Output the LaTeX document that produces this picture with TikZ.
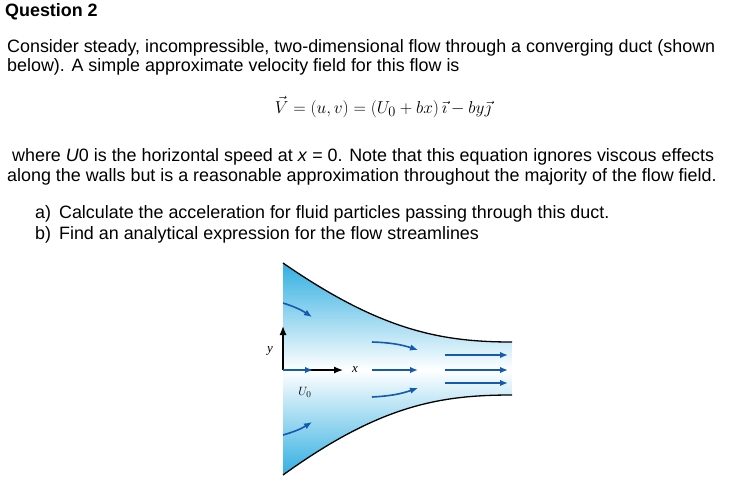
\documentclass[tikz,border=0pt]{standalone}
\usepackage{fontspec}
\setmainfont{Liberation Sans}
\newfontfamily\serifx{Liberation Serif}
\usetikzlibrary{arrows.meta}
\definecolor{duct}{RGB}{50,175,225}
\definecolor{arr}{RGB}{20,90,175}
\begin{document}
\begin{tikzpicture}[x=1pt,y=-1pt,
  txt/.style={anchor=west,inner sep=0pt,font=\fontsize{17.9}{21}\selectfont},
  flow/.style={arr,line width=1.6pt,-{Latex[length=8pt,width=6.5pt]}},
  ax/.style={black,line width=1.2pt,-{Latex[length=9pt,width=7pt]}},
  lab/.style={inner sep=0pt,font=\serifx\itshape\fontsize{13}{15}\selectfont}]
\useasboundingbox[fill=white] (0,0) rectangle (742,483);
\node[txt,font=\bfseries\fontsize{17.9}{21}\selectfont] (q) at (5,12) {Question 2};
\node[txt] (l1) at (7,48) {Consider steady, incompressible, two-dimensional flow through a converging duct (shown};
\node[txt] (l2) at (7,67) {below). A simple approximate velocity field for this flow is};
\node[inner sep=0pt,font=\fontsize{19}{22}\selectfont] (eq) at (383,107) {$\vec V=\left(u,v\right)=\left(U_0+bx\right)\vec\imath-by\vec\jmath$};
\node[txt] (l3) at (12,157) {where \textit{U}0 is the horizontal speed at \textit{x} = 0. Note that this equation ignores viscous effects};
\node[txt] (l4) at (7,177) {along the walls but is a reasonable approximation throughout the majority of the flow field.};
\node[txt] (a) at (35,214) {a)\hspace{8pt}Calculate the acceleration for fluid particles passing through this duct.};
\node[txt] (b) at (35,235) {b)\hspace{8pt}Find an analytical expression for the flow streamlines};
% duct
\begin{scope}
\clip (283,263) .. controls (380,330) and (440,342) .. (512,342) -- (512,395) .. controls (440,395) and (380,405) .. (283,475) -- cycle;
\shade[top color=duct,bottom color=white] (283,263) rectangle (512,370);
\shade[top color=white,bottom color=duct] (283,370) rectangle (512,475);
\end{scope}
\draw[line width=1.3pt] (283,263) .. controls (380,330) and (440,342) .. (512,342);
\draw[line width=1.3pt] (283,475) .. controls (380,405) and (440,395) .. (512,395);
\coordinate (o) at (283,370);
\coordinate (xe) at (343,370);
\coordinate (ye) at (283,326);
\draw[ax] (o) -- (xe);
\draw[ax] (o) -- (ye);
\coordinate (u1) at (313,370);
\draw[flow] (o) -- (u1);
\node[lab] (xl) at (355,370) {x};
\node[lab] (yl) at (270,351) {y};
\node[lab] (ul) at (305,392) {$U_0$};
\coordinate (t1) at (283,303); \coordinate (t2) at (312,317);
\draw[flow] (t1) to[bend left=8] (t2);
\coordinate (b1) at (283,435); \coordinate (b2) at (312,422);
\draw[flow] (b1) to[bend right=8] (b2);
\coordinate (m1) at (372,342); \coordinate (m2) at (418,350);
\draw[flow] (m1) to[bend left=8] (m2);
\coordinate (m3) at (372,370); \coordinate (m4) at (418,370);
\draw[flow] (m3) -- (m4);
\coordinate (m5) at (372,397); \coordinate (m6) at (418,388);
\draw[flow] (m5) to[bend right=8] (m6);
\foreach \yy/\n in {355/r1,370/r2,383/r3}{
  \coordinate (\n s) at (445,\yy); \coordinate (\n e) at (508,\yy);
  \draw[flow] (\n s) -- (\n e);}
\end{tikzpicture}
\end{document}
